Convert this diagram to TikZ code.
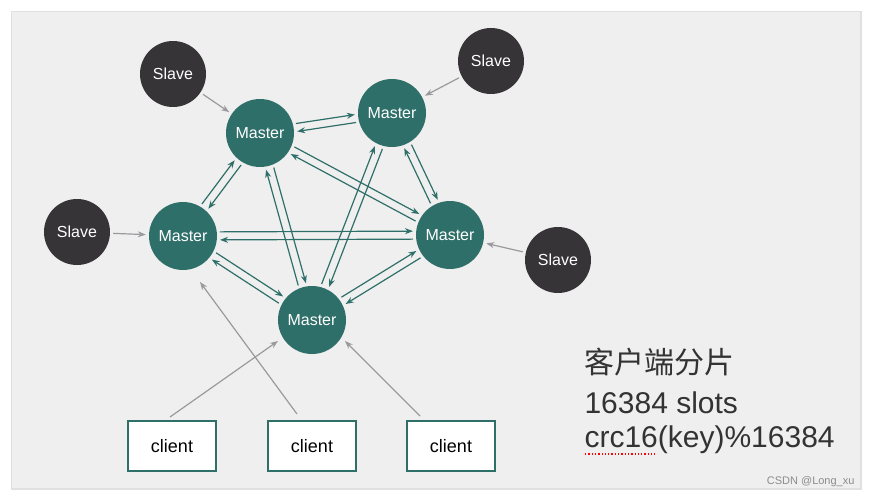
\documentclass[tikz,border=0pt]{standalone}
\usepackage{fontspec}
\setmainfont{Liberation Sans}
\newfontfamily\cjk{Noto Sans CJK SC}
\usetikzlibrary{calc,arrows.meta}
\definecolor{teal1}{HTML}{2F6F69}
\definecolor{slavec}{HTML}{363436}
\definecolor{grayarr}{HTML}{9A9A9E}
\definecolor{bg}{HTML}{EFEFEF}
\tikzset{
 master/.style={circle,fill=teal1,minimum size=68pt,inner sep=0,text=white,font=\fontsize{16}{16}\selectfont},
 slave/.style={circle,fill=slavec,minimum size=66pt,inner sep=0,text=white,font=\fontsize{16}{16}\selectfont},
 client/.style={draw=teal1,line width=1.5pt,fill=white,minimum width=88pt,minimum height=50pt,font=\fontsize{18}{18}\selectfont},
 marr/.style={teal1,line width=1.2pt,-{Stealth[length=8pt,width=6pt]},shorten >=37pt,shorten <=37pt},
 garr/.style={grayarr,line width=1.2pt,-{Stealth[length=8pt,width=6pt]}},
}
\newcommand{\dbl}[2]{%
 \draw[marr] ($(#1)!4pt!90:(#2)$) -- ($(#2)!4pt!-90:(#1)$);
 \draw[marr] ($(#2)!4pt!90:(#1)$) -- ($(#1)!4pt!-90:(#2)$);}
\begin{document}
\begin{tikzpicture}[x=1pt,y=-1pt]
\useasboundingbox (0,0) rectangle (872,500);
\fill[white] (0,0) rectangle (872,500);
\fill[black!12] (11,11) rectangle (862,490);
\fill[bg] (12,12) rectangle (860,488);
\coordinate (a) at (260,133);
\coordinate (b) at (392,113);
\coordinate (c) at (183,236);
\coordinate (d) at (450,235);
\coordinate (e) at (312,320);
\dbl{a}{b}\dbl{a}{c}\dbl{a}{d}\dbl{a}{e}\dbl{b}{d}\dbl{b}{e}\dbl{c}{d}\dbl{c}{e}\dbl{d}{e}
\node[master] (A) at (a) {Master};
\node[master] (B) at (b) {Master};
\node[master] (C) at (c) {Master};
\node[master] (D) at (d) {Master};
\node[master] (E) at (e) {Master};
\node[slave] (S1) at (173,74) {Slave};
\node[slave] (S2) at (491,61) {Slave};
\node[slave] (S3) at (77,232) {Slave};
\node[slave] (S4) at (558,260) {Slave};
\draw[garr,shorten <=3pt,shorten >=3pt] (S1) -- (A);
\draw[garr,shorten <=3pt,shorten >=3pt] (S2) -- (B);
\draw[garr,shorten <=3pt,shorten >=3pt] (S3) -- (C);
\draw[garr,shorten <=3pt,shorten >=3pt] (S4) -- (D);
\node[client] (K1) at (172,446) {client};
\node[client] (K2) at (312,446) {client};
\node[client] (K3) at (451,446) {client};
\coordinate (k1) at (170,417);
\coordinate (k2) at (297,414);
\coordinate (k3) at (420,416);
\draw[garr] (k1) -- (278,341);
\draw[garr] (k2) -- (200,282);
\draw[garr] (k3) -- (345,341);
\node[anchor=west,font=\fontsize{30}{30}\selectfont\cjk,text=black!80] (t1) at (581,362) {客户端分片};
\node[anchor=west,font=\fontsize{30}{30}\selectfont,text=black!80] (t2) at (581,403) {16384 slots};
\node[anchor=west,font=\fontsize{30}{30}\selectfont,text=black!80] (t3) at (581,440) {crc16(key)\%16384};
\draw[red,line width=1.3pt,dotted] (585,454) -- (655,454);
\node[anchor=east,font=\fontsize{11}{11}\selectfont,text=black!45] (w) at (858,482) {CSDN @Long\_xu};
\end{tikzpicture}
\end{document}
